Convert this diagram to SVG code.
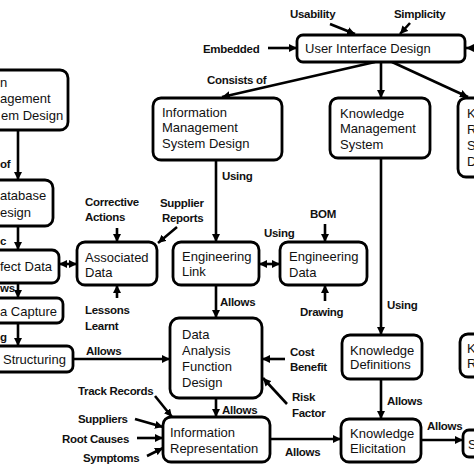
<svg xmlns="http://www.w3.org/2000/svg" width="474" height="474" viewBox="0 0 474 474">
<style>
.box{fill:#fff;stroke:#000;stroke-width:2.8}
.t{font-family:"Liberation Sans",Arial,sans-serif;font-size:13px;fill:#111}
.b{font-family:"Liberation Sans",Arial,sans-serif;font-size:11.5px;font-weight:bold;fill:#111;letter-spacing:-0.3px}
.c{stroke:#000;stroke-width:2.6;fill:none;marker-end:url(#ah)}
.d{marker-start:url(#ahs)}
</style>
<defs>
<marker id="ah" viewBox="0 0 10 10" refX="10" refY="5" markerWidth="8" markerHeight="8" markerUnits="userSpaceOnUse" orient="auto"><path d="M0,0 L10,5 L0,10 z" fill="#000"/></marker>
<marker id="ahs" viewBox="0 0 10 10" refX="10" refY="5" markerWidth="8" markerHeight="8" markerUnits="userSpaceOnUse" orient="auto-start-reverse"><path d="M0,0 L10,5 L0,10 z" fill="#000"/></marker>
</defs>
<rect width="474" height="474" fill="#fff"/>

<g id="connectors">
<line class="c" x1="330" y1="24" x2="355" y2="34"/>
<line class="c" x1="410" y1="23" x2="400" y2="34"/>
<line class="c" x1="268" y1="48" x2="297" y2="48"/>
<line class="c" x1="480" y1="48" x2="466" y2="48"/>
<line class="c" x1="375" y1="62" x2="222" y2="97"/>
<line class="c" x1="381" y1="62" x2="381" y2="98"/>
<line class="c" x1="392" y1="62" x2="468" y2="97"/>
<line class="c" x1="18" y1="130" x2="18" y2="180"/>
<line class="c" x1="18" y1="226" x2="18" y2="250"/>
<line class="c" x1="18" y1="283" x2="18" y2="298"/>
<line class="c" x1="18" y1="323" x2="18" y2="346"/>
<line class="c d" x1="59" y1="264" x2="77" y2="264"/>
<line class="c" x1="117" y1="228" x2="117" y2="242"/>
<line class="c" x1="177" y1="227" x2="158" y2="243"/>
<line class="c" x1="117" y1="298" x2="117" y2="285"/>
<line class="c" x1="216" y1="160" x2="216" y2="242"/>
<line class="c d" x1="259" y1="264" x2="280" y2="264"/>
<line class="c" x1="325" y1="224" x2="325" y2="242"/>
<line class="c" x1="325" y1="301" x2="325" y2="285"/>
<line class="c" x1="216" y1="285" x2="216" y2="318"/>
<line class="c" x1="73" y1="359" x2="170" y2="359"/>
<line class="c" x1="285" y1="359" x2="262" y2="359"/>
<line class="c" x1="287" y1="404" x2="263" y2="378"/>
<line class="c" x1="216" y1="398" x2="216" y2="417"/>
<line class="c" x1="381" y1="158" x2="381" y2="335"/>
<line class="c" x1="381" y1="379" x2="381" y2="419"/>
<line class="c" x1="270" y1="439" x2="341" y2="439"/>
<line class="c" x1="421" y1="440" x2="463" y2="440"/>
<line class="c" x1="155" y1="396" x2="172" y2="417"/>
<line class="c" x1="135" y1="419" x2="163" y2="427"/>
<line class="c" x1="137" y1="438" x2="163" y2="438"/>
<line class="c" x1="147" y1="456" x2="163" y2="448"/>
</g>

<g id="labels">
<text class="b" x="290" y="18">Usability</text>
<text class="b" x="394" y="18">Simplicity</text>
<text class="b" x="203" y="53">Embedded</text>
<text class="b" x="207" y="84">Consists of</text>
<text class="b" x="0" y="168">of</text>
<text class="b" x="0" y="245">c</text>
<text class="b" x="0" y="292">ws</text>
<text class="b" x="0" y="341">g</text>
<text class="b" x="222" y="180">Using</text>
<text class="b" x="85" y="206">Corrective</text>
<text class="b" x="85" y="221">Actions</text>
<text class="b" x="160" y="207">Supplier</text>
<text class="b" x="162" y="222">Reports</text>
<text class="b" x="264" y="237">Using</text>
<text class="b" x="310" y="218">BOM</text>
<text class="b" x="85" y="314">Lessons</text>
<text class="b" x="85" y="330">Learnt</text>
<text class="b" x="220" y="306">Allows</text>
<text class="b" x="300" y="316">Drawing</text>
<text class="b" x="387" y="309">Using</text>
<text class="b" x="86" y="355">Allows</text>
<text class="b" x="290" y="356">Cost</text>
<text class="b" x="290" y="371">Benefit</text>
<text class="b" x="292" y="401">Risk</text>
<text class="b" x="292" y="417">Factor</text>
<text class="b" x="222" y="414">Allows</text>
<text class="b" x="387" y="405">Allows</text>
<text class="b" x="285" y="456">Allows</text>
<text class="b" x="427" y="430">Allows</text>
<text class="b" x="78" y="395">Track Records</text>
<text class="b" x="78" y="423">Suppliers</text>
<text class="b" x="62" y="443">Root Causes</text>
<text class="b" x="83" y="462">Symptoms</text>
</g>

<g id="uiDesign"><rect class="box" x="297" y="35" width="168" height="27" rx="6"/><text class="t" x="305" y="53">User Interface Design</text></g>
<g id="imsdLeft"><rect class="box" x="-10" y="70" width="78" height="60" rx="8"/><text class="t" x="0" y="87">n</text><text class="t" x="0" y="103">agement</text><text class="t" x="1" y="120">em Design</text></g>
<g id="imsd"><rect class="box" x="153" y="98" width="129" height="62" rx="8"/><text class="t" x="162" y="117">Information</text><text class="t" x="162" y="132">Management</text><text class="t" x="162" y="148">System Design</text></g>
<g id="kms"><rect class="box" x="330" y="98" width="100" height="60" rx="8"/><text class="t" x="340" y="118">Knowledge</text><text class="t" x="340" y="133">Management</text><text class="t" x="340" y="149">System</text></g>
<g id="krsd"><rect class="box" x="458" y="98" width="30" height="79" rx="8"/><text class="t" x="467" y="118">K</text><text class="t" x="467" y="134">R</text><text class="t" x="467" y="150">S</text><text class="t" x="467" y="166">D</text></g>
<g id="dbDesign"><rect class="box" x="-10" y="180" width="63" height="46" rx="8"/><text class="t" x="0" y="200">atabase</text><text class="t" x="0" y="217">esign</text></g>
<g id="defectData"><rect class="box" x="-10" y="250" width="69" height="33" rx="7"/><text class="t" x="0" y="271">fect Data</text></g>
<g id="assocData"><rect class="box" x="77" y="242" width="80" height="43" rx="8"/><text class="t" x="85" y="262">Associated</text><text class="t" x="85" y="277">Data</text></g>
<g id="engLink"><rect class="box" x="173" y="242" width="86" height="43" rx="8"/><text class="t" x="182" y="261">Engineering</text><text class="t" x="182" y="276">Link</text></g>
<g id="engData"><rect class="box" x="280" y="242" width="87" height="43" rx="8"/><text class="t" x="289" y="261">Engineering</text><text class="t" x="289" y="277">Data</text></g>
<g id="dataCapture"><rect class="box" x="-10" y="298" width="73" height="25" rx="6"/><text class="t" x="0" y="316">a Capture</text></g>
<g id="structuring"><rect class="box" x="-10" y="346" width="83" height="26" rx="6"/><text class="t" x="3" y="364">Structuring</text></g>
<g id="dafd"><rect class="box" x="170" y="318" width="92" height="80" rx="9"/><text class="t" x="182" y="339">Data</text><text class="t" x="182" y="355">Analysis</text><text class="t" x="182" y="371">Function</text><text class="t" x="182" y="387">Design</text></g>
<g id="kDef"><rect class="box" x="342" y="335" width="80" height="44" rx="8"/><text class="t" x="350" y="355">Knowledge</text><text class="t" x="350" y="369">Definitions</text></g>
<g id="kr"><rect class="box" x="460" y="334" width="30" height="43" rx="8"/><text class="t" x="467" y="353">K</text><text class="t" x="467" y="368">R</text></g>
<g id="ir"><rect class="box" x="163" y="417" width="107" height="45" rx="8"/><text class="t" x="170" y="437">Information</text><text class="t" x="170" y="453">Representation</text></g>
<g id="kElic"><rect class="box" x="341" y="419" width="80" height="43" rx="8"/><text class="t" x="350" y="438">Knowledge</text><text class="t" x="350" y="453">Elicitation</text></g>
<g id="sBox"><rect class="box" x="463" y="430" width="30" height="27" rx="6"/><text class="t" x="468" y="449">S</text></g>
</svg>
